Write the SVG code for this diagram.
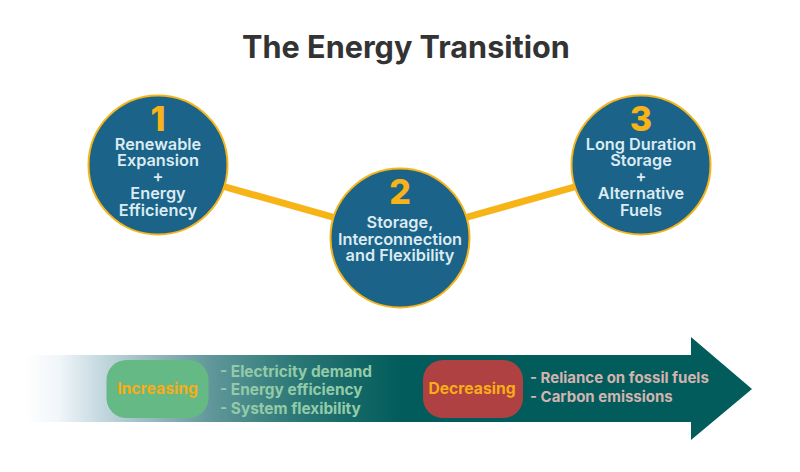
<svg xmlns="http://www.w3.org/2000/svg" width="800" height="472" viewBox="0 0 800 472">
<style>
text{font-family:Inter,"Open Sans","Liberation Sans",sans-serif;font-weight:600}
.c{fill:#1b6388;stroke:#f4b41a;stroke-width:2}
.l{fill:#dcebf2;font-size:16.3px;text-anchor:middle}
.n{fill:#f8b318;font-size:34px;font-weight:800;text-anchor:middle}
.p{fill:#64b985}
.r{fill:#b04142}
.tag{fill:#f8ad18;font-size:15.700px;font-weight:700;text-anchor:middle}
.g{fill:#93cba8;font-size:15.400px;font-weight:700}
.s{fill:#d2b4b0;font-size:15px;font-weight:700}
</style>
<defs>
<linearGradient id="fade" gradientUnits="userSpaceOnUse" x1="25" y1="0" x2="400" y2="0">
<stop offset="0" stop-color="#fff"/>
<stop offset="0.09" stop-color="#f0f6f9"/>
<stop offset="0.2" stop-color="#c5d9e0"/>
<stop offset="0.5" stop-color="#5f9699"/>
<stop offset="0.73" stop-color="#2a7775"/>
<stop offset="1" stop-color="#025c5b"/>
</linearGradient>
</defs>
<rect width="800" height="472" fill="#fff"/>
<text x="406" y="58" text-anchor="middle" font-size="30.600" style="font-weight:700" fill="#333">The Energy Transition</text>
<g id="connectors">
<line x1="222" y1="186" x2="336" y2="218" stroke="#f6b417" stroke-width="7"/>
<line x1="464" y1="218" x2="578" y2="186" stroke="#f6b417" stroke-width="7"/>
</g>
<g id="transition-arrow">
<path d="M25 355H691V337L752 389L691 440V422H25Z" fill="url(#fade)"/>
</g>
<g id="node-1">
<circle class="c" cx="158" cy="165" r="69.500"/>
<text class="n" x="158" y="131">1</text>
<text class="l" x="158" y="150">Renewable</text>
<text class="l" x="158" y="166">Expansion</text>
<text class="l" x="158" y="182">+</text>
<text class="l" x="158" y="199">Energy</text>
<text class="l" x="158" y="216">Efficiency</text>
</g>
<g id="node-2">
<circle class="c" cx="400" cy="238" r="69.500"/>
<text class="n" x="400" y="204">2</text>
<text class="l" x="400" y="228">Storage,</text>
<text class="l" x="400" y="245">Interconnection</text>
<text class="l" x="400" y="261">and Flexibility</text>
</g>
<g id="node-3">
<circle class="c" cx="641" cy="165" r="69.500"/>
<text class="n" x="641" y="131">3</text>
<text class="l" x="641" y="150">Long Duration</text>
<text class="l" x="641" y="166">Storage</text>
<text class="l" x="641" y="182">+</text>
<text class="l" x="641" y="199">Alternative</text>
<text class="l" x="641" y="216">Fuels</text>
</g>
<g id="increasing">
<rect class="p" x="106.500" y="360" width="102" height="58" rx="20"/>
<text class="tag" x="157.500" y="394">Increasing</text>
</g>
<g id="increasing-list">
<text class="g" x="220" y="377">- Electricity demand</text>
<text class="g" x="220" y="395">- Energy efficiency</text>
<text class="g" x="220" y="414">- System flexibility</text>
</g>
<g id="decreasing">
<rect class="r" x="423" y="360" width="100" height="58" rx="20"/>
<text class="tag" x="472" y="394">Decreasing</text>
</g>
<g id="decreasing-list">
<text class="s" x="530" y="383">- Reliance on fossil fuels</text>
<text class="s" x="530" y="402">- Carbon emissions</text>
</g>
</svg>
